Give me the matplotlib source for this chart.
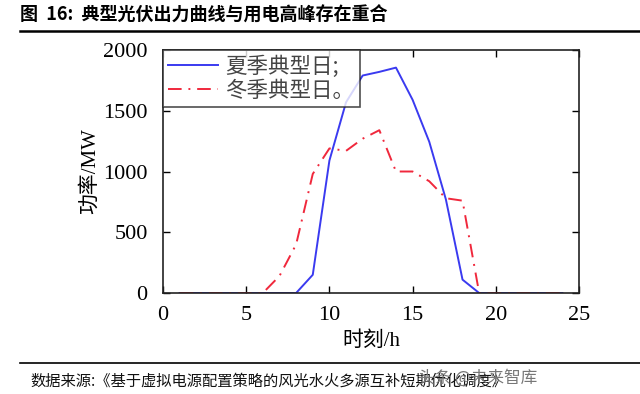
import matplotlib
matplotlib.use("Agg")
import matplotlib.pyplot as plt
from matplotlib.lines import Line2D

hours = list(range(1, 25))
summer = [0, 0, 0, 0, 0, 0, 0, 0, 150, 1090, 1570, 1790, 1820, 1855, 1590, 1245, 770, 110, 0, 0, 0, 0, 0, 0]
winter = [0, 0, 0, 0, 0, 0, 140, 400, 980, 1190, 1170, 1270, 1340, 1000, 1000, 920, 780, 760, 0, 0, 0, 0, 0, 0]
xticks = [0, 5, 10, 15, 20, 25]
yticks = [0, 500, 1000, 1500, 2000]
legend_labels = ["夏季典型日;", "冬季典型日。"]
title = "图  16:  典型光伏出力曲线与用电高峰存在重合"
source = "数据来源:《基于虚拟电源配置策略的风光水火多源互补短期优化调度》"
watermark = "头条 @未来智库"

mixed = ["Liberation Serif", "Noto Sans CJK SC"]
cjk = ["Noto Sans CJK SC", "DejaVu Sans"]

fig = plt.figure(figsize=(6.4, 3.94), dpi=100)
ax = fig.add_axes([0.2547, 0.2563, 0.650, 0.6168])

ax.plot(hours, summer, color="#3a3af0", lw=1.4)
ax.plot(hours, winter, color="#f0283c", lw=1.4, dashes=(7, 3.5, 1, 3.5))

ax.set_xlim(0, 25)
ax.set_ylim(0, 2000)
ax.set_xticks(xticks)
ax.set_yticks(yticks)
ax.tick_params(direction="in", top=True, right=True, length=5, width=1, labelsize=16)
ax.tick_params(axis="x", pad=9)
ax.tick_params(axis="y", pad=11)
for lab in ax.get_xticklabels() + ax.get_yticklabels():
    lab.set_family("Liberation Serif")
for sp in ax.spines.values():
    sp.set_linewidth(1.2)
    sp.set_color("#222222")

ax.set_xlabel("时刻/h", fontsize=15, family=mixed, labelpad=5)
ax.set_ylabel("功率/MW", fontsize=15, family=mixed, labelpad=2)

handles = [Line2D([], [], color="#3a3af0", lw=1.4),
           Line2D([], [], color="#f0283c", lw=1.4, dashes=(7, 3.5, 1, 3.5))]
leg = ax.legend(handles, legend_labels, loc="upper left", bbox_to_anchor=(0, 1),
                prop={"family": cjk, "size": 15.5}, frameon=True, fancybox=False,
                borderpad=0.25, handlelength=2.3, handletextpad=0.35, labelspacing=0.1,
                borderaxespad=0)
leg.get_frame().set_edgecolor("#222222")
leg.get_frame().set_linewidth(1.2)
for t in leg.get_texts():
    t.set_color("#444444")

fig.text(20 / 640, 1 - 15 / 394, title, fontsize=13, fontweight="bold",
         family=cjk, va="center", ha="left")
fig.add_artist(Line2D([20 / 640, 1], [1 - 31 / 394] * 2, color="black", lw=1.8))
fig.add_artist(Line2D([20 / 640, 1], [1 - 363 / 394] * 2, color="black", lw=1.2))
fig.text(30 / 640, 1 - 381 / 394, source, fontsize=11, family=cjk,
         va="center", ha="left", color="#111111")
fig.text(418 / 640, 1 - 378 / 394, watermark, fontsize=12, family=cjk,
         va="center", ha="left", color="#777777")

fig.savefig("out.png", dpi=100)
